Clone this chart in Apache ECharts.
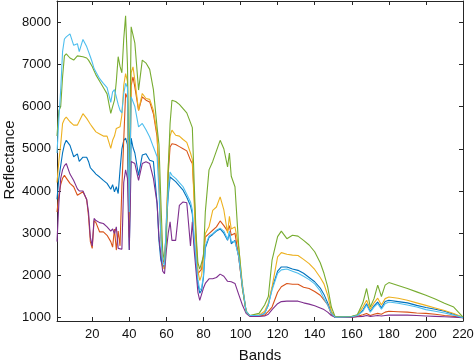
<!DOCTYPE html>
<html><head><meta charset="utf-8">
<script src="https://cdn.jsdelivr.net/npm/echarts@6/dist/echarts.min.js"></script>
<style>html,body{margin:0;padding:0;background:#fff}#c{width:474px;height:363px}</style>
</head><body><div id="c"></div>
<script>
const bands = [1,2,3,4,5,6,8,10,12,13, 15,17,18,19,20,21,22,24,26,28, 30,31,32,33,34,35,36,37,38,39, 40,41,42,43,45,47,49,51,53,55, 56,57,58,59,60,61,62,63,65,67, 69,71,73,74,75,76,77,78,79,80, 81,83,85,87,89,90,91,93,94,95, 97,99,101,103,105,110,113,115,117,120, 122,125,128,131,134,137,140,143,145,147, 149,151,160,163,166,168,170,172,174,176, 178,180,185,190,195,200,205,210,215,220];

const blueVals = [3800,4300,4600,4900,5100,5200,5080,4810,4880,4700, 4800,4800,4700,4550,4500,4450,4400,4330,4250,4180, 4040,4150,3980,4100,3940,4500,5000,5200,5250,5100, 2600,5250,5030,4900,4370,4850,4880,4730,4700,3700, 2830,2360,2200,2250,3200,3900,4330,4300,4220,4120, 4020,3850,3650,3450,2800,2300,1800,1580,1650,1950, 2650,2900,2970,3050,3100,3120,3000,2830,3000,2750, 2830,2450,1750,1150,1050,1050,1100,1300,1700,2100, 2200,2200,2150,2120,2050,1950,1850,1700,1550,1350, 1120,1010,1020,1050,1180,1330,1150,1280,1370,1230, 1380,1410,1380,1350,1290,1240,1200,1150,1080,1000];

const redVals = [3500,3900,4150,4300,4370,4390,4180,4100,3900,3920, 3980,3800,3400,2800,2640,3300,3250,3030,3030,2950, 2800,2670,3100,2600,3050,2700,4100,5200,6310,6200, 2900,6500,6700,6460,5910,6230,6150,6110,5830,5280, 4300,3000,2280,2400,3070,4410,5040,5120,5100,5050, 5000,4950,4730,4650,3900,2900,2040,2000,2150,2500, 2910,2990,3070,3150,3290,3250,3180,3050,3180,2950, 3000,2440,1700,1150,1040,1040,1060,1150,1250,1600, 1730,1810,1790,1790,1720,1690,1620,1530,1420,1310, 1080,1010,1010,1030,1070,1100,1050,1080,1100,1080, 1130,1150,1140,1130,1110,1100,1080,1050,1030,1000];

const yellowVals = [4200,4700,5100,5600,5700,5750,5640,5560,5560,5520, 5830,5720,5650,5580,5520,5460,5400,5350,5300,5300, 5010,5200,5300,5480,5500,5520,5800,6500,6780,6600, 3000,6800,6940,6620,5910,6310,6190,6170,5910,5360, 4200,3000,2200,2150,3300,4600,5300,5440,5320,5300, 5220,5150,4900,4750,3700,2700,2100,1880,2000,2400, 2990,3150,3540,3620,3860,3850,3550,3000,3400,3100, 3150,2670,1800,1150,1050,1060,1150,1350,1730,2440, 2540,2500,2480,2470,2380,2280,2140,1950,1800,1530, 1150,1010,1020,1060,1250,1410,1200,1350,1460,1300, 1450,1490,1460,1410,1350,1290,1230,1170,1100,1010];

const purpleVals = [2800,3700,4300,4500,4600,4650,4400,4250,4050,4000, 4000,3800,3500,2900,2700,3350,3300,3250,3230,3150, 3050,3100,2990,3150,2640,2600,2620,4200,4500,4300, 2600,4700,4730,4650,4250,4650,4690,4650,4300,3700, 2900,2500,2100,2040,2600,3000,3270,2830,2830,3660, 3740,3720,2700,3270,2600,2100,1600,1410,1450,1700, 1810,1920,1920,1950,2030,2030,1980,1860,1840,1850, 1810,1550,1300,1100,1030,1030,1040,1080,1190,1330, 1380,1390,1390,1390,1350,1320,1280,1230,1190,1130, 1050,1010,1010,1020,1030,1050,1030,1040,1050,1040, 1050,1060,1060,1060,1050,1040,1030,1020,1010,1000];

const greenVals = [5300,5900,6000,6700,7200,7250,7150,7100,7200,7220, 7180,7150,7100,7060,6950,6850,6750,6600,6450,6300, 5840,6000,6150,6600,7180,6950,6800,7600,8150,7000, 4300,7890,7880,7500,6390,7100,7030,6880,6400,5500, 5100,3800,2600,2300,2800,4500,5600,6150,6120,6050, 5950,5850,5620,5500,4200,3000,2300,2150,2300,2450, 3500,4500,4700,4950,5200,5230,5000,4570,4900,4350, 4100,2700,1700,1150,1050,1100,1300,1500,2360,2920, 3050,2870,2950,2930,2830,2720,2560,2300,2050,1730, 1250,1020,1030,1070,1350,1690,1250,1450,1770,1500, 1770,1830,1760,1690,1610,1530,1440,1340,1250,1010];

const lightBlueVals = [4900,5700,6400,7300,7600,7650,7720,7450,7490,7300, 7590,7420,7300,7180,7050,6900,6820,6660,6550,6450, 6100,6350,6400,6230,6050,5910,5850,6300,6550,6450, 3500,6230,6260,6000,5520,5600,5450,5280,5040,4810, 4000,2900,2300,2250,3300,4000,4450,4370,4300,4200, 4100,3920,3740,3550,2900,2400,1900,1650,1700,2000, 2700,2930,2990,3070,3120,3150,3050,2850,3050,2800, 2800,2450,1750,1150,1050,1050,1100,1300,1650,2050, 2130,2150,2100,2050,1980,1900,1800,1630,1450,1300, 1100,1010,1020,1050,1150,1300,1130,1250,1330,1200, 1330,1370,1340,1300,1250,1190,1150,1110,1060,1000];

const xTicks = [20,40,60,80,100,120,140,160,180,200,220];
const yTicks = [1000,2000,3000,4000,5000,6000,7000,8000];
const xTitle = 'Bands';
const yTitle = 'Reflectance';

const seriesDefs = [
  {name:'s1', vals: blueVals, color:'#0072BD'},
  {name:'s2', vals: redVals, color:'#D95319'},
  {name:'s3', vals: yellowVals, color:'#EDB120'},
  {name:'s4', vals: purpleVals, color:'#7E2F8E'},
  {name:'s5', vals: greenVals, color:'#77AC30'},
  {name:'s6', vals: lightBlueVals, color:'#4DBEEE'}
];

const font = '"Liberation Sans", Arial, Helvetica, sans-serif';
const axisColor = '#262626';
const chart = echarts.init(document.getElementById('c'), null, {renderer:'canvas'});
const plain = v => String(v);
const xBase = {type:'value', min:1, max:220, splitLine:{show:false},
  axisLine:{show:true, onZero:false, lineStyle:{color:axisColor, width:1}},
  axisTick:{show:true, inside:true, length:4, customValues:xTicks, lineStyle:{color:axisColor}}};
const yBase = {type:'value', min:920, max:8500, splitLine:{show:false},
  axisLine:{show:true, onZero:false, lineStyle:{color:axisColor, width:1}},
  axisTick:{show:true, inside:true, length:4, customValues:yTicks, lineStyle:{color:axisColor}}};

chart.setOption({
  animation:false,
  backgroundColor:'#fff',
  grid:{left:57, right:11, top:1, bottom:42, containLabel:false, outerBoundsMode:'none'},
  graphic:[{
    type:'text', x:10, y:160, rotation:Math.PI/2, silent:true,
    style:{text:yTitle, fontFamily:font, fontSize:15, fill:'#111', align:'center', verticalAlign:'middle'}
  }],
  xAxis:[
    Object.assign({}, xBase, {position:'bottom', name:xTitle, nameLocation:'middle', nameGap:27,
      nameTextStyle:{fontFamily:font, fontSize:15, color:'#111'},
      axisLabel:{show:true, customValues:xTicks, formatter:plain, margin:7, fontFamily:font, fontSize:13, color:'#111'}}),
    Object.assign({}, xBase, {position:'top', axisLabel:{show:false}})
  ],
  yAxis:[
    Object.assign({}, yBase, {position:'left',
      axisLabel:{show:true, customValues:yTicks, formatter:plain, margin:6, fontFamily:font, fontSize:13, color:'#111'}}),
    Object.assign({}, yBase, {position:'right', axisLabel:{show:false}})
  ],
  series: seriesDefs.map(s => ({
    name:s.name, type:'line', xAxisIndex:0, yAxisIndex:0, showSymbol:false, symbol:'none',
    lineStyle:{color:s.color, width:1.1}, itemStyle:{color:s.color},
    data: bands.map((b,i)=>[b, s.vals[i]])
  }))
});
</script></body></html>
